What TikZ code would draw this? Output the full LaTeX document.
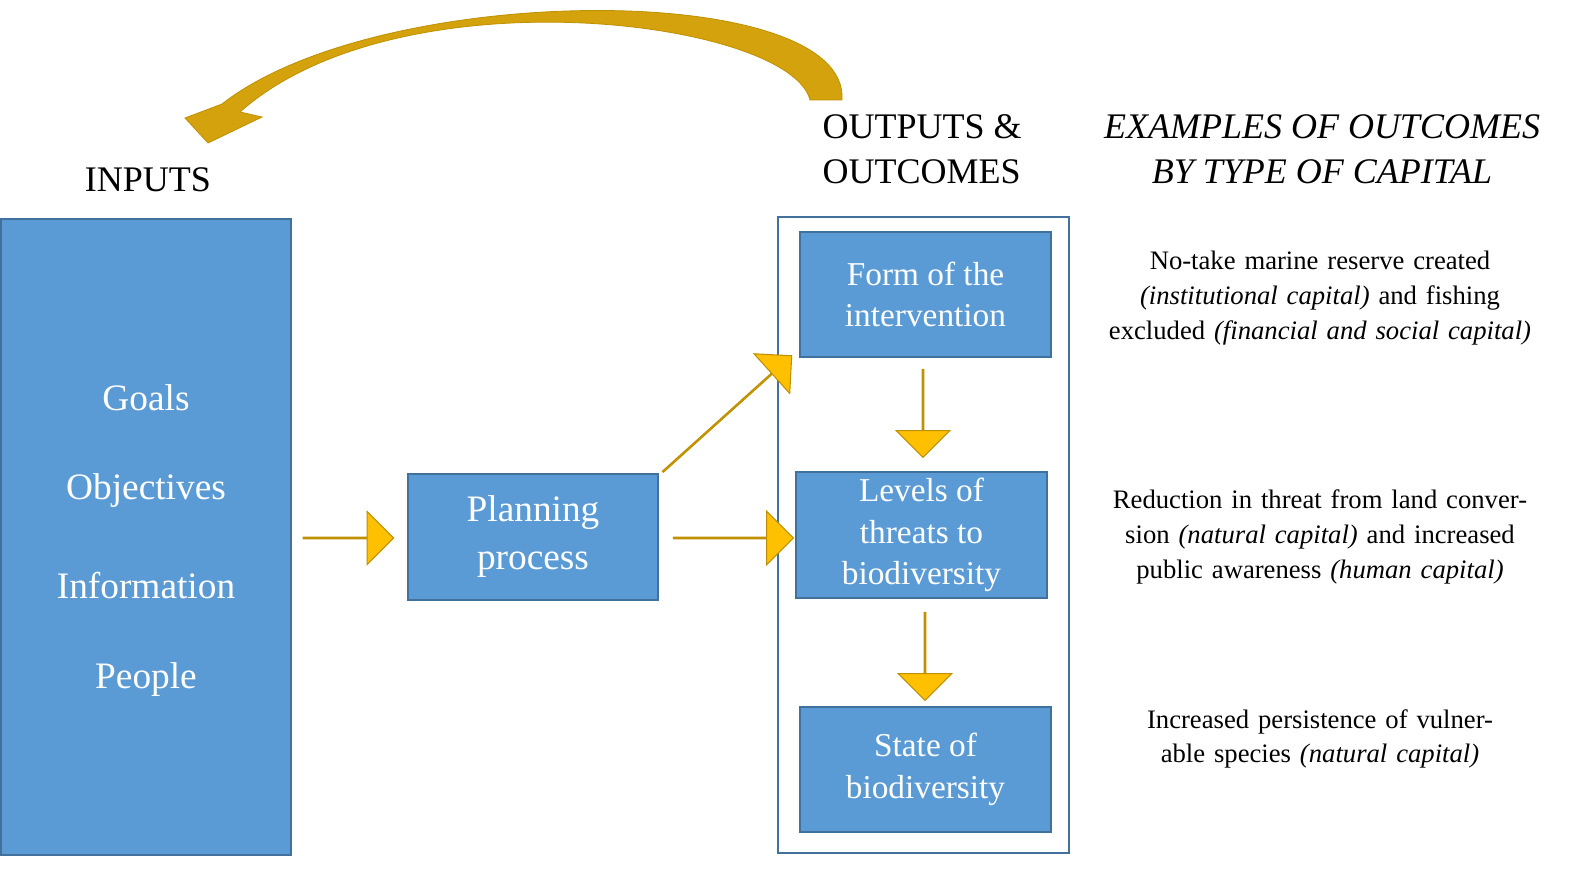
\documentclass[tikz,border=0pt]{standalone}
\usepackage{fontspec}
\setmainfont{Liberation Serif}
\usetikzlibrary{shapes.arrows}
\definecolor{bfill}{HTML}{5B9BD5}
\definecolor{bdraw}{HTML}{41719C}
\definecolor{yel}{HTML}{FFC000}
\definecolor{yeld}{HTML}{BF9000}
\definecolor{gold}{HTML}{D4A20C}
\begin{document}
\begin{tikzpicture}[x=0.75pt,y=-0.75pt,
  box/.style={draw=bdraw,fill=bfill,line width=1.5pt,text=white,align=center,inner sep=0pt},
  yarr/.style={single arrow,draw=yeld,fill=yel,line width=0.8pt,minimum height=#1,single arrow head extend=14pt,minimum width=40pt,inner sep=0pt},
  ex/.style={align=center,font=\fontsize{20}{26}\selectfont,text width=330pt},
  hd/.style={font=\fontsize{27}{34}\selectfont}]
\useasboundingbox (0,0) rectangle (1594,870);
\node[box,minimum width=218pt,minimum height=477pt,font=\fontsize{28}{34}\selectfont] (in) at (146,536.5) {};
\node[text=white,font=\fontsize{28}{34}\selectfont] (g) at (146,398) {Goals};
\node[text=white,font=\fontsize{28}{34}\selectfont] (o) at (146,491) {Objectives};
\node[text=white,font=\fontsize{28}{34}\selectfont] (i) at (146,586) {Information};
\node[text=white,font=\fontsize{28}{34}\selectfont] (p) at (146,680) {People};
\node[hd] (inl) at (148,180) {INPUTS};
\node[box,minimum width=187pt,minimum height=94pt,font=\fontsize{28}{36}\selectfont] (plan) at (533,537) {Planning\\process};
\node[draw=bdraw,line width=1.5pt,minimum width=218pt,minimum height=477pt] (out) at (923.5,534.5) {};
\node[box,minimum width=188pt,minimum height=94pt,font=\fontsize{25}{31}\selectfont] (form) at (925.5,294.5) {Form of the\\intervention};
\node[box,minimum width=188pt,minimum height=94pt,font=\fontsize{25}{31}\selectfont] (lev) at (921.5,535) {Levels of\\threats to\\biodiversity};
\node[box,minimum width=188pt,minimum height=94pt,font=\fontsize{25}{31}\selectfont] (st) at (925.5,769.5) {State of\\biodiversity};
\node[yarr=68pt] (a1) at (348,538) {};
\node[yarr=90pt] (a2) at (733,538) {};
\node[yarr=130pt,rotate=42] (a3) at (727,414) {};
\node[yarr=66pt,rotate=-90] (a4) at (923,413) {};
\node[yarr=66pt,rotate=-90] (a5) at (925,656) {};
\node[hd,align=left,anchor=west] (oo) at (818,149) {OUTPUTS \&\\OUTCOMES};
\node[hd,align=center,font=\fontsize{27}{34}\selectfont\itshape] (exh) at (1322,149) {EXAMPLES OF OUTCOMES\\BY TYPE OF CAPITAL};
\node[ex] (e1) at (1320,298) {No-take marine reserve created \textit{(institutional capital)} and fishing excluded \textit{(financial and social capital)}};
\node[ex] (e2) at (1320,537) {Reduction in threat from land conversion \textit{(natural capital)} and increased public awareness \textit{(human capital)}};
\node[ex] (e3) at (1320,739) {Increased persistence of vulnerable species \textit{(natural capital)}};
% curved feedback arrow
\fill[gold,draw=yeld,line width=0.6pt] (810,100) .. controls (790,20) and (400,-30) .. (240,112)
  -- (262,117) -- (208,143) -- (185,118) -- (222,104)
  .. controls (380,-20) and (850,-20) .. (842,100) -- cycle;
\end{tikzpicture}
\end{document}
